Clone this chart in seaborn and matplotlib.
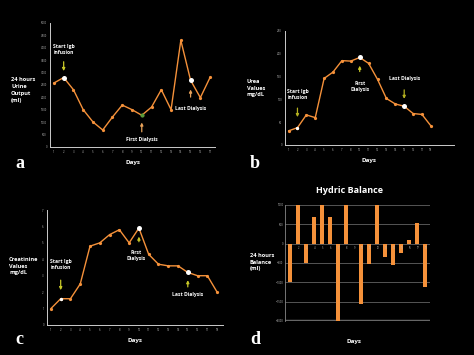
import matplotlib
matplotlib.use('Agg')
import matplotlib.pyplot as plt
import seaborn as sns
import pandas as pd
import numpy as np

# panel a - urine output
urine_days = list(range(1, 18))
urine_ml = [2580, 2800, 2310, 1505, 1010, 685, 1210, 1690, 1505, 1280, 1610, 2310, 1505, 4300, 2690, 1990, 2810]

# panel b - urea (day 9 is missing)
urea_days = [1, 2, 3, 4, 5, 6, 7, 8, 10, 11, 12, 13, 14, 15, 16, 17, 18]
urea_vals = [31, 38, 66, 60, 146, 160, 185, 184, 192, 179, 144, 102, 90, 85, 69, 67, 42]

# panel c - creatinine
creat_days = list(range(1, 19))
creat_vals = [1.0, 1.6, 1.6, 2.5, 4.8, 5.0, 5.5, 5.8, 5.0, 5.9, 4.3, 3.7, 3.6, 3.6, 3.2, 3.0, 3.0, 2.0]

# panel d - hydric balance
bal_days = list(range(1, 19))
bal_ml = [-1000, 1050, -500, 700, 1000, 700, -2000, 1050, 0, -1550, -530, 1090, -350, -550, -230, 100, 545, -1130]

ORANGE = '#f5913a'
YELLOW = '#c8c828'
ARROW_OR = '#e8a25a'

sns.set_style('dark', {'axes.facecolor': 'black', 'figure.facecolor': 'black',
                       'axes.edgecolor': '#bbbbbb', 'xtick.color': '#bbbbbb', 'ytick.color': '#bbbbbb',
                       'text.color': 'white'})
plt.rcParams['font.family'] = ['Open Sans', 'DejaVu Sans']

fig = plt.figure(figsize=(4.74, 3.55), dpi=100)
W, H = 474, 355


def add_ax(x0, y0, x1, y1):
    return fig.add_axes([x0 / W, 1 - y1 / H, (x1 - x0) / W, (y1 - y0) / H])


def style_line_ax(ax):
    ax.set_facecolor('black')
    for s in ['top', 'right']:
        ax.spines[s].set_visible(False)
    for s in ['left', 'bottom']:
        ax.spines[s].set_color('#cccccc')
        ax.spines[s].set_linewidth(0.7)
    ax.tick_params(labelsize=2, length=1.2, width=0.4, pad=1, colors='#bbbbbb')
    ax.grid(False)
    ax.set_xlabel('Days', fontsize=4.5, fontweight='bold', color='white', labelpad=4)
    ax.set_ylabel('')


def arrow(ax, x, y_from, y_to, color):
    ax.annotate('', xy=(x, y_to), xytext=(x, y_from),
                arrowprops=dict(arrowstyle='-|>', color=color, lw=0.9, mutation_scale=4))


def note(ax, x, y, s):
    ax.text(x, y, s, ha='center', va='center', fontsize=3.6, color='white', fontweight='bold', linespacing=1.3)


def side_label(x, y, s):
    fig.text(x / W, 1 - y / H, s, fontsize=4.1, fontweight='bold', color='white',
             va='center', ha='left', linespacing=1.45)


def letter(x, y, s):
    fig.text(x / W, 1 - y / H, s, fontsize=13, fontweight='bold', family='Liberation Serif',
             color='white', va='center')


# ---- panel a
ax = add_ax(50, 23, 215, 147)
df_a = pd.DataFrame({'day': urine_days, 'ml': urine_ml})
sns.lineplot(data=df_a, x='day', y='ml', ax=ax, color=ORANGE, lw=1.0, marker='o', markersize=2.3,
             markeredgewidth=0)
ax.plot(df_a['day'][[1, 14]], df_a['ml'][[1, 14]], 'o', color='white', ms=3.6, mew=0)
ax.plot(df_a['day'][[9]], df_a['ml'][[9]], 'o', color='#5a9a3a', ms=3, mew=0)
ax.set_xlim(0.6, 17.5)
ax.set_ylim(0, 5000)
ax.set_xticks(urine_days)
ax.set_yticks(np.arange(0, 5001, 500))
style_line_ax(ax)
note(ax, 2, 3930, 'Start Igb\ninfusion')
arrow(ax, 2, 3550, 2950, YELLOW)
note(ax, 10, 320, 'First Dialysis')
arrow(ax, 10, 500, 1100, ARROW_OR)
note(ax, 15, 1570, 'Last Dialysis')
arrow(ax, 15, 1900, 2430, ARROW_OR)
side_label(11, 90, '24 hours\nUrine\nOutput\n(ml)')
letter(15, 163, 'a')

# ---- panel b
ax = add_ax(285, 31, 454, 145)
pos_b = list(range(1, len(urea_days) + 1))
df_b = pd.DataFrame({'pos': pos_b, 'urea': urea_vals})
sns.lineplot(data=df_b, x='pos', y='urea', ax=ax, color=ORANGE, lw=1.0, marker='o', markersize=2.3,
             markeredgewidth=0)
ax.plot(df_b['pos'][[1]], df_b['urea'][[1]], 'o', color='white', ms=2.4, mew=0)
ax.plot(df_b['pos'][[8, 13]], df_b['urea'][[8, 13]], 'o', color='white', ms=3.6, mew=0)
ax.set_xlim(0.6, 19.6)
ax.set_ylim(0, 250)
ax.set_xticks(pos_b)
ax.set_xticklabels([str(d) for d in urea_days])
ax.set_yticks(np.arange(0, 251, 50))
style_line_ax(ax)
note(ax, 2, 111, 'Start Igb\ninfusion')
arrow(ax, 2, 87, 55, '#b4b020')
note(ax, 9, 129, 'First\nDialysis')
arrow(ax, 9, 155, 180, YELLOW)
note(ax, 14, 146, 'Last Dialysis')
arrow(ax, 14, 127, 95, '#b4b020')
side_label(247, 88, 'Urea\nValues\nmg/dL')
letter(250, 163, 'b')

# ---- panel c
ax = add_ax(47, 210, 223, 325)
df_c = pd.DataFrame({'day': creat_days, 'cr': creat_vals})
sns.lineplot(data=df_c, x='day', y='cr', ax=ax, color=ORANGE, lw=1.0, marker='o', markersize=2.3,
             markeredgewidth=0)
ax.plot(df_c['day'][[1]], df_c['cr'][[1]], 'o', color='white', ms=2.4, mew=0)
ax.plot(df_c['day'][[9, 14]], df_c['cr'][[9, 14]], 'o', color='white', ms=3.6, mew=0)
ax.set_xlim(0.6, 18.6)
ax.set_ylim(0, 7)
ax.set_xticks(creat_days)
ax.set_yticks(range(0, 8))
style_line_ax(ax)
note(ax, 2, 3.7, 'Start Igb\ninfusion')
arrow(ax, 2, 2.9, 1.95, YELLOW)
note(ax, 9.7, 4.25, 'First\nDialysis')
arrow(ax, 10, 4.9, 5.55, YELLOW)
note(ax, 15, 1.85, 'Last Dialysis')
arrow(ax, 15, 2.15, 2.9, YELLOW)
side_label(9, 266, 'Creatinine\nValues\nmg/dL')
letter(15, 340, 'c')

# ---- panel d
ax = add_ax(285, 205, 430, 321)
df_d = pd.DataFrame({'day': bal_days, 'ml': bal_ml})
sns.barplot(data=df_d, x='day', y='ml', ax=ax, color=ORANGE, width=0.5, saturation=1,
            linewidth=0, edgecolor='none', zorder=3)
ax.set_facecolor('black')
ax.set_ylim(-2000, 1000)
ax.set_yticks(np.arange(-2000, 1001, 500))
ax.yaxis.grid(True, color='#777777', lw=0.5)
ax.xaxis.grid(False)
for s in ['top', 'right', 'bottom']:
    ax.spines[s].set_visible(False)
ax.spines['left'].set_color('#888888')
ax.spines['left'].set_linewidth(0.6)
ax.axhline(-2000, color='#666666', lw=2.5, zorder=1)
ax.tick_params(labelsize=2, length=0, pad=1, colors='#bbbbbb')
ax.set_xticks([])
for i, d in enumerate(bal_days):
    ax.text(i + 0.15, -120, str(d), fontsize=1.8, color='#bbbbbb', ha='center', va='center', zorder=4)
ax.set_xlabel('')
ax.set_ylabel('')
ax.set_xlim(-0.6, 17.6)
fig.text(350 / W, 1 - 191 / H, 'Hydric Balance', fontsize=6.5, fontweight='bold', color='white',
         ha='center', va='center')
fig.text(354 / W, 1 - 341 / H, 'Days', fontsize=4.5, fontweight='bold', color='white',
         ha='center', va='center')
side_label(250, 262, '24 hours\nBalance\n(ml)')
letter(250, 340, 'd')

fig.savefig('out.png', dpi=100, facecolor='black')
